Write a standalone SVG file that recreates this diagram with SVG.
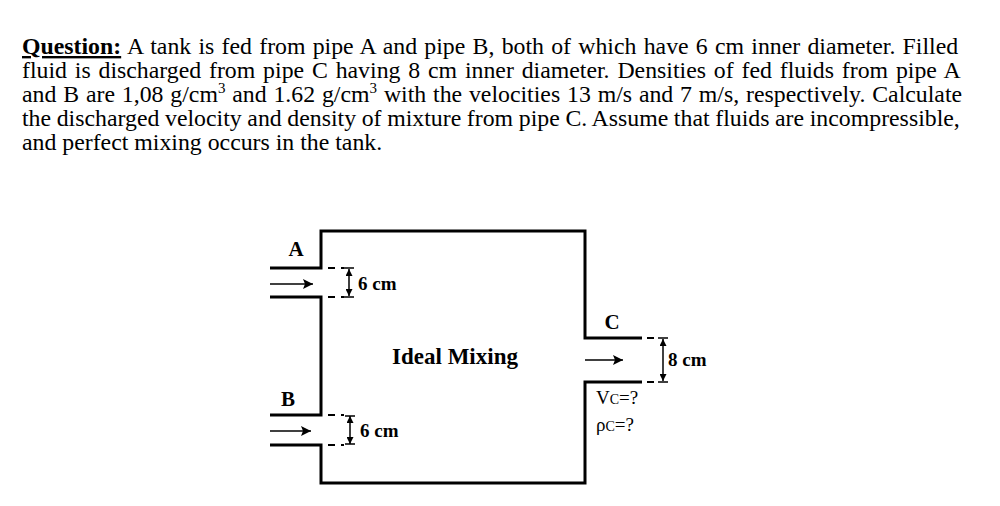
<svg xmlns="http://www.w3.org/2000/svg" width="1000" height="506" viewBox="0 0 1000 506">
<style>
.p{font-family:"Liberation Serif",serif;font-size:23.8px;fill:#000}
.s{font-family:"Liberation Serif",serif;font-size:19px;fill:#000}
.l{font-family:"Liberation Serif",serif;font-weight:bold;fill:#000}
.w{stroke:#000;stroke-width:3;fill:none}
.d{stroke:#000;stroke-width:2;fill:none;stroke-dasharray:7 6}
.t{stroke:#000;stroke-width:1.5;fill:none}
</style>
<defs>
<marker id="ah" viewBox="0 0 10 10" refX="10" refY="5" markerWidth="14" markerHeight="10" orient="auto" markerUnits="userSpaceOnUse"><path d="M0,0 L10,5 L0,10 L2,5 Z" fill="#000"/></marker>
<marker id="sm" viewBox="0 0 10 10" refX="10" refY="5" markerWidth="7" markerHeight="7" orient="auto-start-reverse" markerUnits="userSpaceOnUse"><path d="M0,0 L10,5 L0,10 Z" fill="#000"/></marker>
</defs>
<g id="question">
<text class="p" x="22" y="54" word-spacing="1.3"><tspan font-weight="bold" text-decoration="underline">Question:</tspan> A tank is fed from pipe A and pipe B, both of which have 6 cm inner diameter. Filled</text>
<text class="p" x="22" y="78" word-spacing="1.9">fluid is discharged from pipe C having 8 cm inner diameter. Densities of fed fluids from pipe A</text>
<text class="p" x="22" y="102" word-spacing="0.9">and B are 1,08 g/cm<tspan dy="-9" style="font-size:15px">3</tspan><tspan dy="9"> and 1.62 g/cm</tspan><tspan dy="-9" style="font-size:15px">3</tspan><tspan dy="9"> with the velocities 13 m/s and 7 m/s, respectively. Calculate</tspan></text>
<text class="p" x="22" y="126" word-spacing="-0.3">the discharged velocity and density of mixture from pipe C. Assume that fluids are incompressible,</text>
<text class="p" x="22" y="150">and perfect mixing occurs in the tank.</text>
</g>
<g id="tank">
<path class="w" d="M270,268 H321 V231 H585 V338 H642 M642,382 H585 V483 H321 V445 H270 M270,415 H321 V297 H270"/>
<text class="l" x="455" y="364" style="font-size:23px" text-anchor="middle">Ideal Mixing</text>
</g>
<g id="pipeA">
<text class="l" x="296" y="256" style="font-size:21px" text-anchor="middle">A</text>
<path class="d" d="M328,268 H344 M328,297 H344"/>
<text class="l" x="358" y="290" style="font-size:19px">6 cm</text>
</g>
<g id="pipeB">
<text class="l" x="288" y="406" style="font-size:21px" text-anchor="middle">B</text>
<path class="d" d="M328,415 H344 M328,445 H344"/>
<text class="l" x="360" y="437" style="font-size:19px">6 cm</text>
</g>
<g id="pipeC">
<text class="l" x="612" y="329" style="font-size:21px" text-anchor="middle">C</text>
<path class="d" d="M647,338 H658 M647,382 H658"/>
<text class="l" x="668" y="366" style="font-size:19px">8 cm</text>
<text class="s" x="596" y="404">V<tspan style="font-size:14px">C</tspan>=?</text>
<text class="s" x="596" y="431">ρ<tspan style="font-size:14px">C</tspan>=?</text>
</g>
<g id="connectors">
<line class="t" x1="270" y1="284" x2="313" y2="284" stroke-width="2.5" marker-end="url(#ah)"/>
<line class="t" x1="270" y1="431" x2="311" y2="431" stroke-width="2.5" marker-end="url(#ah)"/>
<line class="t" x1="585" y1="360" x2="623" y2="360" stroke-width="2.5" marker-end="url(#ah)"/>
<path class="t" d="M344,268 H354 M344,297 H354 M345,416 H355 M345,444 H355 M658,338 H668 M658,382 H668"/>
<line class="t" x1="349" y1="269" x2="349" y2="296" marker-start="url(#sm)" marker-end="url(#sm)"/>
<line class="t" x1="350" y1="416" x2="350" y2="444" marker-start="url(#sm)" marker-end="url(#sm)"/>
<line class="t" x1="663" y1="339" x2="663" y2="381" stroke-width="2" marker-start="url(#sm)" marker-end="url(#sm)"/>
</g>
</svg>
